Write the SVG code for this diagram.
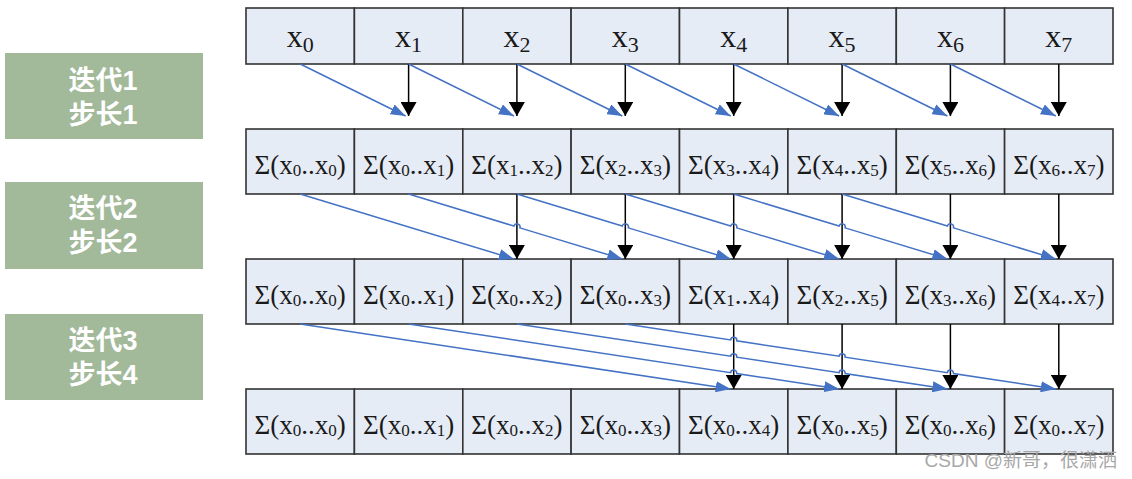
<svg xmlns="http://www.w3.org/2000/svg" width="1132" height="479" viewBox="0 0 1132 479">
<style>
.cell{fill:#e6ecf6;stroke:#333;stroke-width:1.6}
.t1{font-family:"Liberation Serif","Times New Roman",serif;font-size:32px;fill:#1a1a1a;text-anchor:middle}
.t{font-family:"Liberation Serif","Times New Roman",serif;font-size:27px;fill:#1a1a1a;text-anchor:middle}
.lab{fill:#a2b99a}
.lt{font-family:"Liberation Sans","Noto Sans CJK SC",sans-serif;font-size:27px;font-weight:bold;fill:#fff;text-anchor:middle}
.blk{stroke:#000;stroke-width:1.5;fill:none;marker-end:url(#ab)}
.blu{stroke:#4472c4;stroke-width:1.5;fill:none;marker-end:url(#au)}
.wm{font-family:"Liberation Sans","Noto Sans CJK SC",sans-serif;font-size:19px;fill:#a8a8a8;text-anchor:end}
</style>
<defs>
<marker id="ab" markerUnits="userSpaceOnUse" markerWidth="14" markerHeight="16" refX="14" refY="8" orient="auto"><path d="M0,0 L14,8 L0,16 z" fill="#000"/></marker>
<marker id="au" markerUnits="userSpaceOnUse" markerWidth="15" markerHeight="11" refX="15" refY="5.5" orient="auto"><path d="M0,0 L15,5.5 L0,11 z" fill="#4472c4"/></marker>
</defs>
<rect width="1132" height="479" fill="#fff"/>

<g id="label1"><rect class="lab" x="5" y="53" width="198" height="86"/><text class="lt" x="103" y="89.5">迭代1</text><text class="lt" x="103" y="124">步长1</text></g>
<g id="label2"><rect class="lab" x="5" y="182" width="198" height="87"/><text class="lt" x="103" y="218">迭代2</text><text class="lt" x="103" y="252">步长2</text></g>
<g id="label3"><rect class="lab" x="5" y="314" width="198" height="86"/><text class="lt" x="103" y="349.5">迭代3</text><text class="lt" x="103" y="383.5">步长4</text></g>

<g id="row1">
<g id="r1c0"><rect class="cell" x="246" y="8" width="108.4" height="56"/><text class="t1" x="300.2" y="47">x<tspan font-size="22" dy="5">0</tspan></text></g>
<g id="r1c1"><rect class="cell" x="354.4" y="8" width="108.4" height="56"/><text class="t1" x="408.6" y="47">x<tspan font-size="22" dy="5">1</tspan></text></g>
<g id="r1c2"><rect class="cell" x="462.8" y="8" width="108.3" height="56"/><text class="t1" x="516.9" y="47">x<tspan font-size="22" dy="5">2</tspan></text></g>
<g id="r1c3"><rect class="cell" x="571.1" y="8" width="108.4" height="56"/><text class="t1" x="625.3" y="47">x<tspan font-size="22" dy="5">3</tspan></text></g>
<g id="r1c4"><rect class="cell" x="679.5" y="8" width="108.4" height="56"/><text class="t1" x="733.7" y="47">x<tspan font-size="22" dy="5">4</tspan></text></g>
<g id="r1c5"><rect class="cell" x="787.9" y="8" width="108.4" height="56"/><text class="t1" x="842.1" y="47">x<tspan font-size="22" dy="5">5</tspan></text></g>
<g id="r1c6"><rect class="cell" x="896.3" y="8" width="108.3" height="56"/><text class="t1" x="950.4" y="47">x<tspan font-size="22" dy="5">6</tspan></text></g>
<g id="r1c7"><rect class="cell" x="1004.6" y="8" width="108.4" height="56"/><text class="t1" x="1058.8" y="47">x<tspan font-size="22" dy="5">7</tspan></text></g>
</g>

<g id="row2">
<g id="r2c0"><rect class="cell" x="246" y="129" width="108.4" height="65"/><text class="t" x="300.2" y="174">Σ(x<tspan font-size="17" dy="2">0</tspan><tspan dy="-2">..x</tspan><tspan font-size="17" dy="2">0</tspan><tspan dy="-2">)</tspan></text></g>
<g id="r2c1"><rect class="cell" x="354.4" y="129" width="108.4" height="65"/><text class="t" x="408.6" y="174">Σ(x<tspan font-size="17" dy="2">0</tspan><tspan dy="-2">..x</tspan><tspan font-size="17" dy="2">1</tspan><tspan dy="-2">)</tspan></text></g>
<g id="r2c2"><rect class="cell" x="462.8" y="129" width="108.3" height="65"/><text class="t" x="516.9" y="174">Σ(x<tspan font-size="17" dy="2">1</tspan><tspan dy="-2">..x</tspan><tspan font-size="17" dy="2">2</tspan><tspan dy="-2">)</tspan></text></g>
<g id="r2c3"><rect class="cell" x="571.1" y="129" width="108.4" height="65"/><text class="t" x="625.3" y="174">Σ(x<tspan font-size="17" dy="2">2</tspan><tspan dy="-2">..x</tspan><tspan font-size="17" dy="2">3</tspan><tspan dy="-2">)</tspan></text></g>
<g id="r2c4"><rect class="cell" x="679.5" y="129" width="108.4" height="65"/><text class="t" x="733.7" y="174">Σ(x<tspan font-size="17" dy="2">3</tspan><tspan dy="-2">..x</tspan><tspan font-size="17" dy="2">4</tspan><tspan dy="-2">)</tspan></text></g>
<g id="r2c5"><rect class="cell" x="787.9" y="129" width="108.4" height="65"/><text class="t" x="842.1" y="174">Σ(x<tspan font-size="17" dy="2">4</tspan><tspan dy="-2">..x</tspan><tspan font-size="17" dy="2">5</tspan><tspan dy="-2">)</tspan></text></g>
<g id="r2c6"><rect class="cell" x="896.3" y="129" width="108.3" height="65"/><text class="t" x="950.4" y="174">Σ(x<tspan font-size="17" dy="2">5</tspan><tspan dy="-2">..x</tspan><tspan font-size="17" dy="2">6</tspan><tspan dy="-2">)</tspan></text></g>
<g id="r2c7"><rect class="cell" x="1004.6" y="129" width="108.4" height="65"/><text class="t" x="1058.8" y="174">Σ(x<tspan font-size="17" dy="2">6</tspan><tspan dy="-2">..x</tspan><tspan font-size="17" dy="2">7</tspan><tspan dy="-2">)</tspan></text></g>
</g>

<g id="row3">
<g id="r3c0"><rect class="cell" x="246" y="259" width="108.4" height="65"/><text class="t" x="300.2" y="304">Σ(x<tspan font-size="17" dy="2">0</tspan><tspan dy="-2">..x</tspan><tspan font-size="17" dy="2">0</tspan><tspan dy="-2">)</tspan></text></g>
<g id="r3c1"><rect class="cell" x="354.4" y="259" width="108.4" height="65"/><text class="t" x="408.6" y="304">Σ(x<tspan font-size="17" dy="2">0</tspan><tspan dy="-2">..x</tspan><tspan font-size="17" dy="2">1</tspan><tspan dy="-2">)</tspan></text></g>
<g id="r3c2"><rect class="cell" x="462.8" y="259" width="108.3" height="65"/><text class="t" x="516.9" y="304">Σ(x<tspan font-size="17" dy="2">0</tspan><tspan dy="-2">..x</tspan><tspan font-size="17" dy="2">2</tspan><tspan dy="-2">)</tspan></text></g>
<g id="r3c3"><rect class="cell" x="571.1" y="259" width="108.4" height="65"/><text class="t" x="625.3" y="304">Σ(x<tspan font-size="17" dy="2">0</tspan><tspan dy="-2">..x</tspan><tspan font-size="17" dy="2">3</tspan><tspan dy="-2">)</tspan></text></g>
<g id="r3c4"><rect class="cell" x="679.5" y="259" width="108.4" height="65"/><text class="t" x="733.7" y="304">Σ(x<tspan font-size="17" dy="2">1</tspan><tspan dy="-2">..x</tspan><tspan font-size="17" dy="2">4</tspan><tspan dy="-2">)</tspan></text></g>
<g id="r3c5"><rect class="cell" x="787.9" y="259" width="108.4" height="65"/><text class="t" x="842.1" y="304">Σ(x<tspan font-size="17" dy="2">2</tspan><tspan dy="-2">..x</tspan><tspan font-size="17" dy="2">5</tspan><tspan dy="-2">)</tspan></text></g>
<g id="r3c6"><rect class="cell" x="896.3" y="259" width="108.3" height="65"/><text class="t" x="950.4" y="304">Σ(x<tspan font-size="17" dy="2">3</tspan><tspan dy="-2">..x</tspan><tspan font-size="17" dy="2">6</tspan><tspan dy="-2">)</tspan></text></g>
<g id="r3c7"><rect class="cell" x="1004.6" y="259" width="108.4" height="65"/><text class="t" x="1058.8" y="304">Σ(x<tspan font-size="17" dy="2">4</tspan><tspan dy="-2">..x</tspan><tspan font-size="17" dy="2">7</tspan><tspan dy="-2">)</tspan></text></g>
</g>

<g id="row4">
<g id="r4c0"><rect class="cell" x="246" y="389" width="108.4" height="65"/><text class="t" x="300.2" y="434">Σ(x<tspan font-size="17" dy="2">0</tspan><tspan dy="-2">..x</tspan><tspan font-size="17" dy="2">0</tspan><tspan dy="-2">)</tspan></text></g>
<g id="r4c1"><rect class="cell" x="354.4" y="389" width="108.4" height="65"/><text class="t" x="408.6" y="434">Σ(x<tspan font-size="17" dy="2">0</tspan><tspan dy="-2">..x</tspan><tspan font-size="17" dy="2">1</tspan><tspan dy="-2">)</tspan></text></g>
<g id="r4c2"><rect class="cell" x="462.8" y="389" width="108.3" height="65"/><text class="t" x="516.9" y="434">Σ(x<tspan font-size="17" dy="2">0</tspan><tspan dy="-2">..x</tspan><tspan font-size="17" dy="2">2</tspan><tspan dy="-2">)</tspan></text></g>
<g id="r4c3"><rect class="cell" x="571.1" y="389" width="108.4" height="65"/><text class="t" x="625.3" y="434">Σ(x<tspan font-size="17" dy="2">0</tspan><tspan dy="-2">..x</tspan><tspan font-size="17" dy="2">3</tspan><tspan dy="-2">)</tspan></text></g>
<g id="r4c4"><rect class="cell" x="679.5" y="389" width="108.4" height="65"/><text class="t" x="733.7" y="434">Σ(x<tspan font-size="17" dy="2">0</tspan><tspan dy="-2">..x</tspan><tspan font-size="17" dy="2">4</tspan><tspan dy="-2">)</tspan></text></g>
<g id="r4c5"><rect class="cell" x="787.9" y="389" width="108.4" height="65"/><text class="t" x="842.1" y="434">Σ(x<tspan font-size="17" dy="2">0</tspan><tspan dy="-2">..x</tspan><tspan font-size="17" dy="2">5</tspan><tspan dy="-2">)</tspan></text></g>
<g id="r4c6"><rect class="cell" x="896.3" y="389" width="108.3" height="65"/><text class="t" x="950.4" y="434">Σ(x<tspan font-size="17" dy="2">0</tspan><tspan dy="-2">..x</tspan><tspan font-size="17" dy="2">6</tspan><tspan dy="-2">)</tspan></text></g>
<g id="r4c7"><rect class="cell" x="1004.6" y="389" width="108.4" height="65"/><text class="t" x="1058.8" y="434">Σ(x<tspan font-size="17" dy="2">0</tspan><tspan dy="-2">..x</tspan><tspan font-size="17" dy="2">7</tspan><tspan dy="-2">)</tspan></text></g>
</g>

<g id="connectors">
<path class="blk" d="M408.6,64 V116"/>
<path class="blk" d="M516.9,64 V116"/>
<path class="blk" d="M625.3,64 V116"/>
<path class="blk" d="M733.7,64 V116"/>
<path class="blk" d="M842.1,64 V116"/>
<path class="blk" d="M950.4,64 V116"/>
<path class="blk" d="M1058.8,64 V116"/>
<path class="blu" d="M300.2,64 L405.6,116"/>
<path class="blu" d="M408.6,64 L513.9,116"/>
<path class="blu" d="M516.9,64 L622.3,116"/>
<path class="blu" d="M625.3,64 L730.7,116"/>
<path class="blu" d="M733.7,64 L839.1,116"/>
<path class="blu" d="M842.1,64 L947.4,116"/>
<path class="blu" d="M950.4,64 L1055.8,116"/>

<path class="blk" d="M516.9,194 V259"/>
<path class="blk" d="M625.3,194 V259"/>
<path class="blk" d="M733.7,194 V259"/>
<path class="blk" d="M842.1,194 V259"/>
<path class="blk" d="M950.4,194 V259"/>
<path class="blk" d="M1058.8,194 V259"/>
<path class="blu" d="M300.2,194 L513.9,259"/>
<path class="blu" d="M408.6,194 L513.9,226.04 A3,3 0 0 1 519.9,227.87 L622.3,259"/>
<path class="blu" d="M516.9,194 L622.3,226.04 A3,3 0 0 1 628.3,227.87 L730.7,259"/>
<path class="blu" d="M625.3,194 L730.7,226.04 A3,3 0 0 1 736.7,227.87 L839.1,259"/>
<path class="blu" d="M733.7,194 L839.1,226.04 A3,3 0 0 1 845.1,227.87 L947.4,259"/>
<path class="blu" d="M842.1,194 L947.4,226.04 A3,3 0 0 1 953.4,227.87 L1055.8,259"/>

<path class="blk" d="M733.7,324 V389"/>
<path class="blk" d="M842.1,324 V389"/>
<path class="blk" d="M950.4,324 V389"/>
<path class="blk" d="M1058.8,324 V389"/>
<path class="blu" d="M300.2,324 L730.7,389"/>
<path class="blu" d="M408.6,324 L730.7,372.64 A3,3 0 0 1 736.7,373.54 L839.1,389"/>
<path class="blu" d="M516.9,324 L730.7,356.27 A3,3 0 0 1 736.7,357.18 L839.1,372.64 A3,3 0 0 1 845.1,373.54 L947.4,389"/>
<path class="blu" d="M625.3,324 L730.7,339.91 A3,3 0 0 1 736.7,340.82 L839.1,356.27 A3,3 0 0 1 845.1,357.18 L947.4,372.64 A3,3 0 0 1 953.4,373.54 L1055.8,389"/>
</g>

<text class="wm" x="1117" y="467">CSDN @新哥，很潇洒</text>
</svg>
